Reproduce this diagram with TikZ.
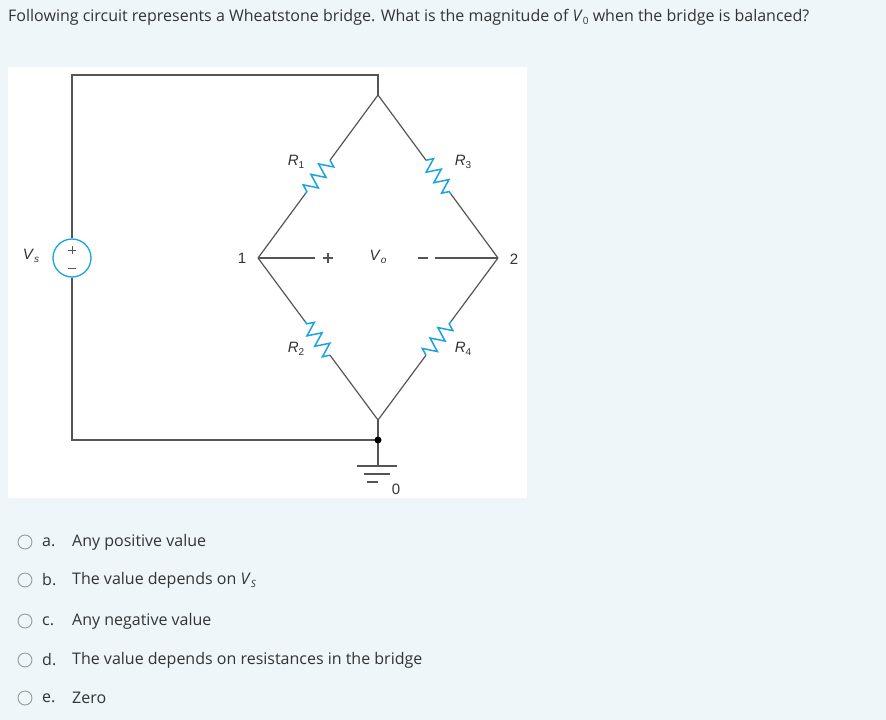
\documentclass[tikz,border=0pt]{standalone}
\usepackage{fontspec}
\setmainfont{Open Sans}
\newfontfamily\circfont{Liberation Sans}
\usetikzlibrary{decorations.pathmorphing,calc}
\definecolor{pagebg}{HTML}{EEF6FA}
\definecolor{resblue}{HTML}{1AA3E0}
\definecolor{wiregray}{HTML}{555555}
\definecolor{txt}{HTML}{333333}
\tikzset{
  wire/.style={draw=wiregray,line width=1.2pt},
  zz/.style={draw=resblue,line width=1.5pt,decorate,decoration={zigzag,amplitude=7pt,segment length=13pt}},
  ctext/.style={font=\circfont\fontsize{15}{17}\selectfont,text=txt,inner sep=0pt},
  qtext/.style={font=\fontsize{16}{19}\selectfont,text=txt,anchor=west,inner sep=0pt},
  radio/.style={circle,draw=gray!80,line width=0.9pt,minimum size=14pt,inner sep=0pt}
}
\newcommand{\subsc}[1]{\raisebox{-3pt}{\fontsize{10}{10}\selectfont #1}}
\begin{document}
\begin{tikzpicture}[x=1pt,y=-1pt]
\fill[pagebg] (0,0) rectangle (886,720);
\useasboundingbox (0,0) rectangle (886,720);
\fill[white] (8,67) rectangle (527,498);
\node[qtext] (q) at (8,17) {Following circuit represents a Wheatstone bridge. What is the magnitude of \textit{V}\subsc{0} when the bridge is balanced?};
% nodes
\coordinate (T) at (378,95);
\coordinate (L) at (258,258);
\coordinate (R) at (498,258);
\coordinate (B) at (378,420);
\coordinate (TL) at (72,75);
\coordinate (TR) at (378,75);
\coordinate (BL) at (72,440);
\coordinate (G) at (378,440);
\node[circle,draw=resblue,line width=1.3pt,minimum size=38pt,inner sep=0pt] (src) at (72,258) {};
\draw[wiregray,line width=1pt] (68,250) -- (76,250) (72,246) -- (72,254);
\draw[wiregray,line width=1pt] (68,268) -- (76,268);
% wires
\draw[wire] (src.north) -- (TL) -- (TR) -- (T);
\draw[wire] (src.south) -- (BL) -- (G) -- (B);
\draw[wire] (G) -- (378,466);
\fill[black] (G) circle (3.5pt);
\draw[wire] (357,466) -- (397,466);
\draw[wire] (364,474) -- (390,474);
\draw[wire] (367,482) -- (378,482);
\node[ctext] (zero) at (396,489) {0};
% bridge arms
\draw[wire] (T) -- ($(T)!0.40!(L)$) coordinate (r1a);
\draw[zz] (r1a) -- ($(T)!0.61!(L)$) coordinate (r1b);
\draw[wire] (r1b) -- (L);
\draw[wire] (T) -- ($(T)!0.40!(R)$) coordinate (r3a);
\draw[zz] (r3a) -- ($(T)!0.61!(R)$) coordinate (r3b);
\draw[wire] (r3b) -- (R);
\draw[wire] (B) -- ($(B)!0.40!(L)$) coordinate (r2a);
\draw[zz] (r2a) -- ($(B)!0.61!(L)$) coordinate (r2b);
\draw[wire] (r2b) -- (L);
\draw[wire] (B) -- ($(B)!0.40!(R)$) coordinate (r4a);
\draw[zz] (r4a) -- ($(B)!0.61!(R)$) coordinate (r4b);
\draw[wire] (r4b) -- (R);
% Vo line
\draw[wiregray,line width=1.2pt] (323,258) -- (333,258) (328,253) -- (328,263);
\draw[wiregray,line width=1.2pt] (418,258) -- (428,258);
\node[ctext] (vo) at (378,257) {\textit{V}\subsc{\textit{o}}};
\draw[wire] (L) -- (315,258);
\draw[wire] (435,258) -- (R);
% labels
\node[ctext] at (31,256) {\textit{V}\subsc{\textit{s}}};
\node[ctext] at (242,258) {1};
\node[ctext] at (514,259) {2};
\node[ctext] at (296,162) {\textit{R}\subsc{1}};
\node[ctext] at (463,162) {\textit{R}\subsc{3}};
\node[ctext] at (296,349) {\textit{R}\subsc{2}};
\node[ctext] at (463,349) {\textit{R}\subsc{4}};
% options
\foreach \y/\l/\t [count=\i] in {542/a./Any positive value, 580/b./{The value depends on \textit{V}\subsc{\textit{S}}}, 621/c./Any negative value, 660/d./The value depends on resistances in the bridge, 698/e./Zero}{
  \node[radio] (o\i) at (25,\y) {};
  \node[qtext] (l\i) at (42,\y) {\l};
  \node[qtext] (t\i) at (72,\y) {\t};
}
\end{tikzpicture}
\end{document}
